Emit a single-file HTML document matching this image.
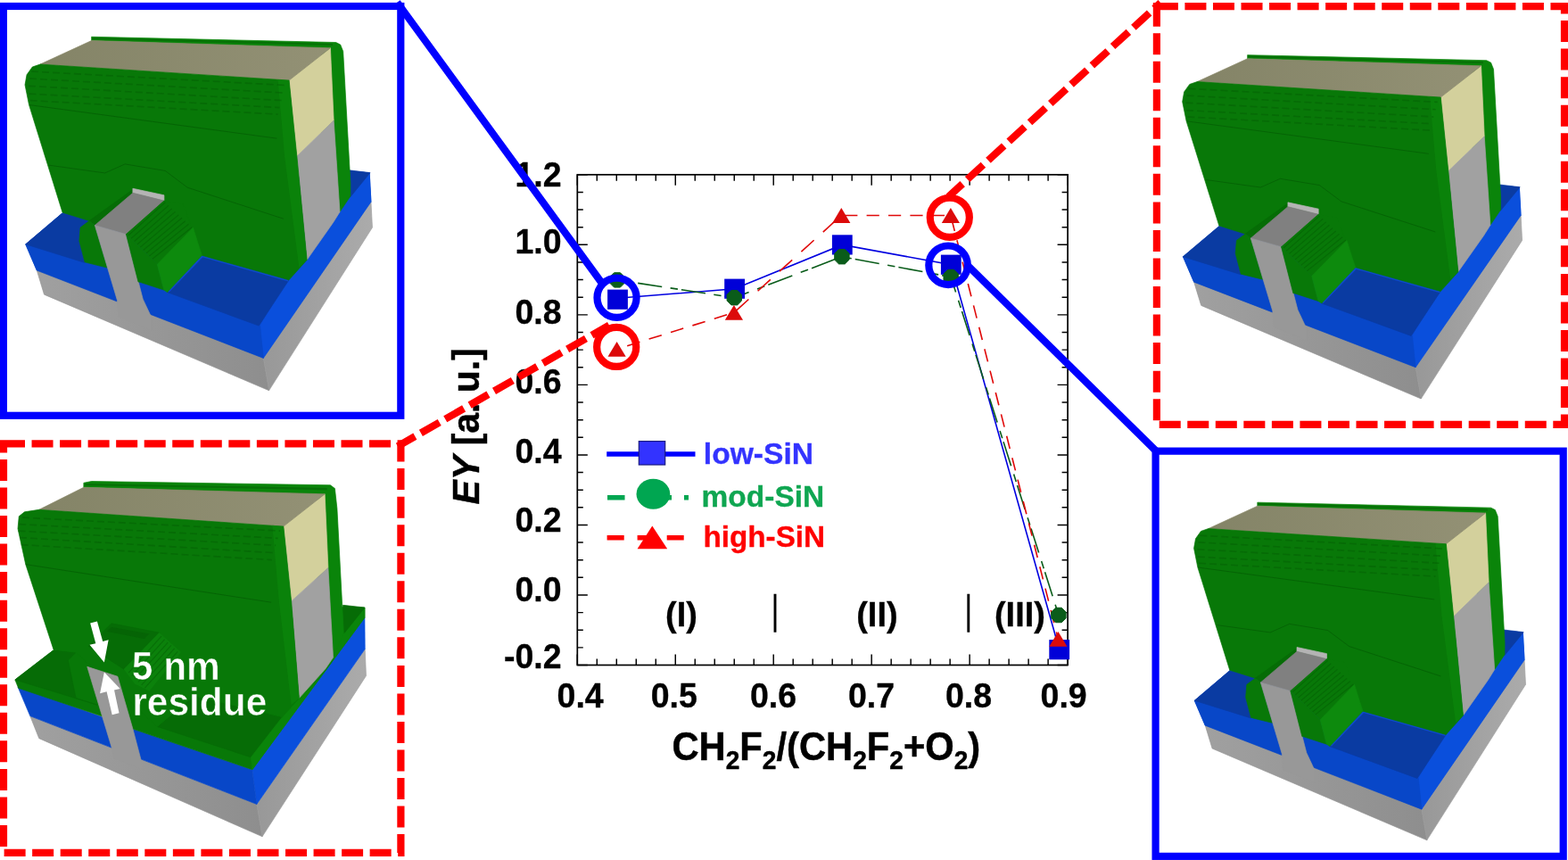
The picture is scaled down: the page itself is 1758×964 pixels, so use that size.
<!DOCTYPE html>
<html lang="en">
<head>
<meta charset="utf-8">
<title>EY vs CH2F2/(CH2F2+O2)</title>
<style>
html,body{margin:0;padding:0;background:#fff;}
body{width:1758px;height:964px;overflow:hidden;}
svg{display:block;}
svg text{font-family:"Liberation Sans", sans-serif;font-weight:bold;}
</style>
</head>
<body>
<svg width="1758" height="964" viewBox="0 0 1758 964">
<rect x="0" y="0" width="1758" height="964" fill="#ffffff"/>
<defs><linearGradient id="gk" x1="0" y1="0" x2="1" y2="0"><stop offset="0" stop-color="#848467"/><stop offset="1" stop-color="#939175"/></linearGradient><linearGradient id="gf" x1="0" y1="0" x2="1" y2="0"><stop offset="0" stop-color="#a0a0a0"/><stop offset="1" stop-color="#8e8e8e"/></linearGradient><linearGradient id="gr" x1="0" y1="0" x2="1" y2="0"><stop offset="0" stop-color="#989898"/><stop offset="1" stop-color="#ababab"/></linearGradient></defs>
<g id="models" stroke-width="0.7" stroke-linejoin="round">
<g>
<polygon points="70.06,238.79 28.76,273.83 41.29,303.09 295.32,401.46 415.96,226.26 414.21,193.94 372.91,190.18" fill="#0847c8" stroke="#0847c8"/>
<polygon points="295.32,401.46 301.58,437.75 417.46,255.04 415.96,226.26" fill="url(#gr)" stroke="#a2a2a2"/>
<polygon points="41.29,303.09 49.54,330.13 301.58,437.75 295.32,401.46" fill="url(#gf)" stroke="#969696"/>
<polygon points="372.91,190.18 414.21,193.94 415.96,226.26 295.32,401.46 291.57,365.16 322.86,312.61" fill="#0a4fdc" stroke="#0a4fdc"/>
<polygon points="28.76,273.83 41.29,303.09 295.32,401.46 291.57,365.16 187.57,327.58 156.91,316.31 120.11,300.11 95.09,293.86" fill="#0847c8" stroke="#0847c8"/>
<polygon points="70.06,238.79 28.76,273.83 95.09,294.48 88.83,270.08 90.08,255.06 100.09,247.55" fill="#0a3ba2" stroke="#0a3ba2"/>
<polygon points="187.57,327.58 226.36,286.28 323.97,313.81 290.18,365.12" fill="#0a3ba2" stroke="#0a3ba2"/>
<polyline points="188.82,326.95 226.99,287.28 323.34,314.56" fill="none" stroke="#0d4bd0" stroke-width="2.0" opacity="0.9"/>
<polygon points="391.5,190.8 415,193.6 392.6,221 388,222" fill="#0a3ba2" stroke="#0a3ba2"/>
<polygon points="102.61,41.26 376.67,47.52 381.67,50.02 384.68,57.53 392.9,205 392.8,220 381,237.5 360.4,237.74 360.4,53.78 102.61,45.52" fill="#0a840a" stroke="#0a840a"/>
<polyline points="103.11,43.01 372.91,50.02" fill="none" stroke="#066c06" stroke-width="2.2" opacity="0.8"/>
<polygon points="324.11,90.07 370.41,53.78 374.16,135.12 332.87,175.16" fill="#d3d09c" stroke="#d3d09c"/>
<polygon points="332.87,175.16 374.16,135.12 381,237.5 373.5,249.5 344.13,291.33" fill="#a1a1a1" stroke="#a1a1a1"/>
<polygon points="45.04,72.05 102.61,45.52 370.41,53.78 324.11,90.07" fill="url(#gk)" stroke="#8a8868"/>
<polygon points="45.04,72.05 36.28,75.05 30.02,83.81 28.02,95.07 32.53,117.6 70.06,238.17 100.09,247.55 226.36,286.28 323.97,313.81 344.13,291.33 332.87,175.16 324.11,90.07" fill="#087808" stroke="#087808"/>
<polygon points="311.59,89.32 324.11,90.07 332.87,175.16 344.13,291.33 335.37,300.09 319.1,175.16" fill="#0d8a0d" stroke="none" opacity="0.55"/>
<polyline points="35.03,80.06 320.35,95.57" fill="none" stroke="#045c04" stroke-width="1.6" opacity="0.45" stroke-dasharray="8 4"/>
<polyline points="33.03,88.07 318.35,104.08" fill="none" stroke="#045c04" stroke-width="1.6" opacity="0.45" stroke-dasharray="8 4"/>
<polyline points="32.03,96.33 315.85,112.59" fill="none" stroke="#045c04" stroke-width="1.6" opacity="0.45" stroke-dasharray="8 4"/>
<polyline points="32.53,105.09 313.34,120.6" fill="none" stroke="#045c04" stroke-width="1.6" opacity="0.45" stroke-dasharray="8 4"/>
<polyline points="33.78,112.59 311.59,128.11" fill="none" stroke="#045c04" stroke-width="1.6" opacity="0.45" stroke-dasharray="8 4"/>
<polyline points="33.03,117.6 310.34,155.14" fill="none" stroke="#045c04" stroke-width="0.9" opacity="0.8"/>
<polyline points="55.05,185.18 117.62,193.94 140.15,183.92 185.2,191.43 210.23,210.2 317.85,245.24" fill="none" stroke="#045c04" stroke-width="0.9" opacity="0.8"/>
<polygon points="100.09,247.55 148.9,212.51 148.9,216.89 106.35,252.56" fill="#066c06" stroke="#066c06"/>
<polygon points="90.08,255.06 100.09,247.55 106.35,252.56 120.11,300.11 95.09,293.86 88.83,270.08" fill="#087808" stroke="#087808"/>
<polygon points="148.9,211.26 183.94,218.77 183.94,225.03 148.9,216.27" fill="#b4b4b4" stroke="#b4b4b4"/>
<polygon points="106.35,252.56 148.9,216.27 183.94,225.03 141.39,262.57" fill="#808080" stroke="#808080"/>
<polygon points="106.35,252.56 141.39,262.57 160.17,335.13 170.18,356.41 170.18,370.17 132.64,355.15 131.39,336.38" fill="#989898" stroke="#989898"/>
<polygon points="141.39,262.57 183.94,225.03 205.21,228.78 221.35,271.26 176.3,296.29" fill="#087808" stroke="#087808"/>
<polyline points="143.89,263.82 185.19,226.91" fill="none" stroke="#045c04" stroke-width="1.1" opacity="0.55"/>
<polyline points="147.23,267.16 188.94,230.38" fill="none" stroke="#045c04" stroke-width="1.1" opacity="0.55"/>
<polyline points="150.57,270.5 192.7,233.86" fill="none" stroke="#045c04" stroke-width="1.1" opacity="0.55"/>
<polyline points="153.9,273.83 196.45,237.33" fill="none" stroke="#045c04" stroke-width="1.1" opacity="0.55"/>
<polyline points="157.24,277.17 200.2,240.81" fill="none" stroke="#045c04" stroke-width="1.1" opacity="0.55"/>
<polyline points="160.58,280.51 203.96,244.29" fill="none" stroke="#045c04" stroke-width="1.1" opacity="0.55"/>
<polyline points="163.91,283.85 207.71,247.76" fill="none" stroke="#045c04" stroke-width="1.1" opacity="0.55"/>
<polyline points="167.25,287.18 211.47,251.24" fill="none" stroke="#045c04" stroke-width="1.1" opacity="0.55"/>
<polyline points="170.59,290.52 215.22,254.71" fill="none" stroke="#045c04" stroke-width="1.1" opacity="0.55"/>
<polygon points="141.39,262.57 176.3,296.29 183.81,325.07 156.91,316.31 155,316" fill="#087808" stroke="#087808"/>
<polygon points="176.3,296.29 216.4,255.1 222.7,275.1 226.36,286.28 187.57,327.58 183.81,325.07" fill="#0d8a0d" stroke="#0d8a0d"/>
</g>
<g>
<polygon points="1366.81,253.63 1326.42,287.69 1338.67,316.13 1587.12,411.73 1705.1,241.44 1703.39,210.02 1663,206.38" fill="#0847c8" stroke="#0847c8"/>
<polygon points="1587.12,411.73 1593.24,447.01 1706.57,269.42 1705.1,241.44" fill="url(#gr)" stroke="#a2a2a2"/>
<polygon points="1338.67,316.13 1346.74,342.4 1593.24,447.01 1587.12,411.73" fill="url(#gf)" stroke="#969696"/>
<polygon points="1663,206.38 1703.39,210.02 1705.1,241.44 1587.12,411.73 1583.45,376.46 1614.04,325.37" fill="#0a4fdc" stroke="#0a4fdc"/>
<polygon points="1326.42,287.69 1338.67,316.13 1587.12,411.73 1583.45,376.46 1481.73,339.92 1451.74,328.98 1415.76,313.23 1391.28,307.15" fill="#0847c8" stroke="#0847c8"/>
<polygon points="1366.81,253.63 1326.42,287.69 1391.28,307.76 1385.16,284.04 1386.39,269.44 1396.18,262.14" fill="#0a3ba2" stroke="#0a3ba2"/>
<polygon points="1481.73,339.92 1519.67,299.78 1615.13,326.54 1582.09,376.41" fill="#0a3ba2" stroke="#0a3ba2"/>
<polyline points="1482.95,339.32 1520.28,300.76 1614.52,327.27" fill="none" stroke="#0d4bd0" stroke-width="2.0" opacity="0.9"/>
<polygon points="1681.18,206.98 1704.16,209.7 1682.25,236.33 1677.75,237.3" fill="#0a3ba2" stroke="#0a3ba2"/>
<polygon points="1398.64,61.63 1666.67,67.71 1671.57,70.14 1674.5,77.44 1682.55,220.78 1682.45,235.36 1670.91,252.37 1650.76,252.6 1650.76,73.79 1398.64,65.76" fill="#0a840a" stroke="#0a840a"/>
<polyline points="1399.13,63.33 1663,70.14" fill="none" stroke="#066c06" stroke-width="2.2" opacity="0.8"/>
<polygon points="1615.27,109.07 1660.55,73.79 1664.22,152.85 1623.83,191.78" fill="#d3d09c" stroke="#d3d09c"/>
<polygon points="1623.83,191.78 1664.22,152.85 1670.91,252.37 1663.57,264.03 1634.85,304.69" fill="#a1a1a1" stroke="#a1a1a1"/>
<polygon points="1342.34,91.55 1398.64,65.76 1660.55,73.79 1615.27,109.07" fill="url(#gk)" stroke="#8a8868"/>
<polygon points="1342.34,91.55 1333.77,94.47 1327.65,102.98 1325.69,113.93 1330.1,135.83 1366.81,253.02 1396.18,262.14 1519.67,299.78 1615.13,326.54 1634.85,304.69 1623.83,191.78 1615.27,109.07" fill="#087808" stroke="#087808"/>
<polygon points="1603.03,108.34 1615.27,109.07 1623.83,191.78 1634.85,304.69 1626.28,313.21 1610.37,191.78" fill="#0d8a0d" stroke="none" opacity="0.55"/>
<polyline points="1332.55,99.33 1611.59,114.42" fill="none" stroke="#045c04" stroke-width="1.6" opacity="0.45" stroke-dasharray="8 4"/>
<polyline points="1330.59,107.12 1609.64,122.69" fill="none" stroke="#045c04" stroke-width="1.6" opacity="0.45" stroke-dasharray="8 4"/>
<polyline points="1329.61,115.15 1607.19,130.96" fill="none" stroke="#045c04" stroke-width="1.6" opacity="0.45" stroke-dasharray="8 4"/>
<polyline points="1330.1,123.66 1604.74,138.74" fill="none" stroke="#045c04" stroke-width="1.6" opacity="0.45" stroke-dasharray="8 4"/>
<polyline points="1331.32,130.96 1603.03,146.04" fill="none" stroke="#045c04" stroke-width="1.6" opacity="0.45" stroke-dasharray="8 4"/>
<polyline points="1330.59,135.83 1601.8,172.32" fill="none" stroke="#045c04" stroke-width="0.9" opacity="0.8"/>
<polyline points="1352.13,201.51 1413.32,210.02 1435.35,200.29 1479.41,207.59 1503.89,225.84 1609.15,259.9" fill="none" stroke="#045c04" stroke-width="0.9" opacity="0.8"/>
<polygon points="1396.18,262.14 1443.91,228.08 1443.91,232.34 1402.3,267.01" fill="#066c06" stroke="#066c06"/>
<polygon points="1386.39,269.44 1396.18,262.14 1402.3,267.01 1415.76,313.23 1391.28,307.15 1385.16,284.04" fill="#087808" stroke="#087808"/>
<polygon points="1443.91,226.87 1478.18,234.16 1478.18,240.25 1443.91,231.73" fill="#b4b4b4" stroke="#b4b4b4"/>
<polygon points="1402.3,267.01 1443.91,231.73 1478.18,240.25 1436.57,276.74" fill="#808080" stroke="#808080"/>
<polygon points="1402.3,267.01 1436.57,276.74 1454.94,347.27 1464.73,367.94 1464.73,381.32 1428.01,366.73 1426.79,348.48" fill="#989898" stroke="#989898"/>
<polygon points="1436.57,276.74 1478.18,240.25 1498.99,243.9 1514.77,285.19 1470.71,309.51" fill="#087808" stroke="#087808"/>
<polyline points="1439.02,277.95 1479.4,242.07" fill="none" stroke="#045c04" stroke-width="1.1" opacity="0.55"/>
<polyline points="1442.28,281.2 1483.08,245.45" fill="none" stroke="#045c04" stroke-width="1.1" opacity="0.55"/>
<polyline points="1445.54,284.44 1486.75,248.83" fill="none" stroke="#045c04" stroke-width="1.1" opacity="0.55"/>
<polyline points="1448.81,287.69 1490.42,252.21" fill="none" stroke="#045c04" stroke-width="1.1" opacity="0.55"/>
<polyline points="1452.07,290.93 1494.09,255.59" fill="none" stroke="#045c04" stroke-width="1.1" opacity="0.55"/>
<polyline points="1455.33,294.17 1497.76,258.97" fill="none" stroke="#045c04" stroke-width="1.1" opacity="0.55"/>
<polyline points="1458.6,297.42 1501.43,262.34" fill="none" stroke="#045c04" stroke-width="1.1" opacity="0.55"/>
<polyline points="1461.86,300.66 1505.11,265.72" fill="none" stroke="#045c04" stroke-width="1.1" opacity="0.55"/>
<polyline points="1465.12,303.9 1508.78,269.1" fill="none" stroke="#045c04" stroke-width="1.1" opacity="0.55"/>
<polygon points="1436.57,276.74 1470.71,309.51 1478.06,337.49 1451.74,328.98 1449.88,328.67" fill="#087808" stroke="#087808"/>
<polygon points="1470.71,309.51 1509.93,269.48 1516.09,288.92 1519.67,299.78 1481.73,339.92 1478.06,337.49" fill="#0d8a0d" stroke="#0d8a0d"/>
</g>
<g>
<polygon points="1378.73,751.79 1339.29,785.26 1351.25,813.2 1593.86,907.14 1709.07,739.82 1707.39,708.95 1667.96,705.37" fill="#0847c8" stroke="#0847c8"/>
<polygon points="1593.86,907.14 1599.84,941.79 1710.5,767.31 1709.07,739.82" fill="url(#gr)" stroke="#a2a2a2"/>
<polygon points="1351.25,813.2 1359.14,839.01 1599.84,941.79 1593.86,907.14" fill="url(#gf)" stroke="#969696"/>
<polygon points="1667.96,705.37 1707.39,708.95 1709.07,739.82 1593.86,907.14 1590.27,872.48 1620.15,822.28" fill="#0a4fdc" stroke="#0a4fdc"/>
<polygon points="1339.29,785.26 1351.25,813.2 1593.86,907.14 1590.27,872.48 1490.95,836.58 1461.67,825.82 1426.53,810.35 1402.63,804.38" fill="#0847c8" stroke="#0847c8"/>
<polygon points="1378.73,751.79 1339.29,785.26 1402.63,804.98 1396.66,781.67 1397.85,767.33 1407.41,760.16" fill="#0a3ba2" stroke="#0a3ba2"/>
<polygon points="1490.95,836.58 1528,797.14 1621.22,823.43 1588.95,872.43" fill="#0a3ba2" stroke="#0a3ba2"/>
<polyline points="1492.15,835.98 1528.6,798.1 1620.62,824.15" fill="none" stroke="#0d4bd0" stroke-width="2.0" opacity="0.9"/>
<polygon points="1685.71,705.96 1708.15,708.63 1686.76,734.8 1682.37,735.75" fill="#0a3ba2" stroke="#0a3ba2"/>
<polygon points="1409.81,563.15 1671.54,569.13 1676.32,571.52 1679.19,578.69 1687.04,719.52 1686.95,733.84 1675.68,750.56 1656.01,750.78 1656.01,575.1 1409.81,567.21" fill="#0a840a" stroke="#0a840a"/>
<polyline points="1410.29,564.82 1667.96,571.52" fill="none" stroke="#066c06" stroke-width="2.2" opacity="0.8"/>
<polygon points="1621.35,609.76 1665.57,575.1 1669.15,652.78 1629.71,691.03" fill="#d3d09c" stroke="#d3d09c"/>
<polygon points="1629.71,691.03 1669.15,652.78 1675.68,750.56 1668.52,762.02 1640.47,801.97" fill="#a1a1a1" stroke="#a1a1a1"/>
<polygon points="1354.84,592.55 1409.81,567.21 1665.57,575.1 1621.35,609.76" fill="url(#gk)" stroke="#8a8868"/>
<polygon points="1354.84,592.55 1346.47,595.42 1340.5,603.78 1338.58,614.54 1342.89,636.05 1378.73,751.2 1407.41,760.16 1528,797.14 1621.22,823.43 1640.47,801.97 1629.71,691.03 1621.35,609.76" fill="#087808" stroke="#087808"/>
<polygon points="1609.4,609.04 1621.35,609.76 1629.71,691.03 1640.47,801.97 1632.1,810.33 1616.57,691.03" fill="#0d8a0d" stroke="none" opacity="0.55"/>
<polyline points="1345.28,600.2 1617.76,615.02" fill="none" stroke="#045c04" stroke-width="1.6" opacity="0.45" stroke-dasharray="8 4"/>
<polyline points="1343.36,607.85 1615.85,623.14" fill="none" stroke="#045c04" stroke-width="1.6" opacity="0.45" stroke-dasharray="8 4"/>
<polyline points="1342.41,615.74 1613.46,631.27" fill="none" stroke="#045c04" stroke-width="1.6" opacity="0.45" stroke-dasharray="8 4"/>
<polyline points="1342.89,624.1 1611.07,638.92" fill="none" stroke="#045c04" stroke-width="1.6" opacity="0.45" stroke-dasharray="8 4"/>
<polyline points="1344.08,631.27 1609.4,646.09" fill="none" stroke="#045c04" stroke-width="1.6" opacity="0.45" stroke-dasharray="8 4"/>
<polyline points="1343.36,636.05 1608.2,671.91" fill="none" stroke="#045c04" stroke-width="0.9" opacity="0.8"/>
<polyline points="1364.4,700.59 1424.15,708.95 1445.67,699.39 1488.69,706.56 1512.59,724.49 1615.37,757.95" fill="none" stroke="#045c04" stroke-width="0.9" opacity="0.8"/>
<polygon points="1407.41,760.16 1454.02,726.7 1454.02,730.88 1413.39,764.94" fill="#066c06" stroke="#066c06"/>
<polygon points="1397.85,767.33 1407.41,760.16 1413.39,764.94 1426.53,810.35 1402.63,804.38 1396.66,781.67" fill="#087808" stroke="#087808"/>
<polygon points="1454.02,725.5 1487.48,732.67 1487.48,738.65 1454.02,730.28" fill="#b4b4b4" stroke="#b4b4b4"/>
<polygon points="1413.39,764.94 1454.02,730.28 1487.48,738.65 1446.85,774.5" fill="#808080" stroke="#808080"/>
<polygon points="1413.39,764.94 1446.85,774.5 1464.79,843.79 1474.35,864.11 1474.35,877.26 1438.5,862.92 1437.3,844.99" fill="#989898" stroke="#989898"/>
<polygon points="1446.85,774.5 1487.48,738.65 1507.8,742.23 1523.22,782.8 1480.19,806.7" fill="#087808" stroke="#087808"/>
<polyline points="1449.24,775.7 1488.68,740.44" fill="none" stroke="#045c04" stroke-width="1.1" opacity="0.55"/>
<polyline points="1452.43,778.88 1492.26,743.76" fill="none" stroke="#045c04" stroke-width="1.1" opacity="0.55"/>
<polyline points="1455.61,782.07 1495.85,747.08" fill="none" stroke="#045c04" stroke-width="1.1" opacity="0.55"/>
<polyline points="1458.8,785.26 1499.44,750.4" fill="none" stroke="#045c04" stroke-width="1.1" opacity="0.55"/>
<polyline points="1461.99,788.44 1503.02,753.72" fill="none" stroke="#045c04" stroke-width="1.1" opacity="0.55"/>
<polyline points="1465.18,791.63 1506.61,757.04" fill="none" stroke="#045c04" stroke-width="1.1" opacity="0.55"/>
<polyline points="1468.36,794.82 1510.19,760.36" fill="none" stroke="#045c04" stroke-width="1.1" opacity="0.55"/>
<polyline points="1471.55,798 1513.78,763.68" fill="none" stroke="#045c04" stroke-width="1.1" opacity="0.55"/>
<polyline points="1474.74,801.19 1517.36,767" fill="none" stroke="#045c04" stroke-width="1.1" opacity="0.55"/>
<polygon points="1446.85,774.5 1480.19,806.7 1487.36,834.19 1461.67,825.82 1459.85,825.52" fill="#087808" stroke="#087808"/>
<polygon points="1480.19,806.7 1518.49,767.37 1524.5,786.47 1528,797.14 1490.95,836.58 1487.36,834.19" fill="#0d8a0d" stroke="#0d8a0d"/>
</g>
<g>
<polygon points="287.82,901.47 294.07,937.76 410.46,757.55 409.2,727.52" fill="url(#gr)" stroke="#a2a2a2"/>
<polygon points="33.78,802.61 43.79,827.63 294.07,937.76 287.82,901.47" fill="url(#gf)" stroke="#969696"/>
<polygon points="282.81,862.67 287.82,901.47 409.2,727.52 408.9,692.2" fill="#0a4fdc" stroke="#0a4fdc"/>
<polygon points="20.01,770.07 33.78,802.61 287.82,901.47 282.81,862.67 148.91,817.12 115.12,803.86" fill="#0847c8" stroke="#0847c8"/>
<polygon points="60.06,728.79 16.88,761.96 20.64,771.34 113.87,802.63 148.91,817.12 282.81,862.67 408.9,692.2 408.9,681 360.4,680.18" fill="#087808" stroke="#087808"/>
<polygon points="60.06,728.79 16.88,761.96 108.86,790.11 85.09,782.61 76.33,740.06 85.09,731.3" fill="#066c06" stroke="#066c06"/>
<polygon points="176.3,814.45 217.6,780.03 316.46,803.81 281.42,848.86" fill="#066c06" stroke="#066c06"/>
<polygon points="386.5,709 408.9,681 408.9,692.2 282.81,862.67 281.42,848.86 316.46,803.81" fill="#0a840a" stroke="#0a840a"/>
<polygon points="384.5,678.3 408.9,681 386.5,709 382,710" fill="#066c06" stroke="#066c06"/>
<polygon points="93.85,541.27 102.61,539.52 370.41,543.78 375.42,547.53 377.92,570.06 385.3,709.6 373.5,737 355.39,727.74 355.39,553.79 93.85,546.28" fill="#0a840a" stroke="#0a840a"/>
<polyline points="95.1,543.03 366.66,548.03" fill="none" stroke="#066c06" stroke-width="2.2" opacity="0.8"/>
<polygon points="317.85,590.08 364.15,553.79 367.91,636.38 326.61,673.92" fill="#d3d09c" stroke="#d3d09c"/>
<polygon points="326.61,673.92 367.91,636.38 373.5,737 365,749.5 335.37,782.58" fill="#a1a1a1" stroke="#a1a1a1"/>
<polygon points="43.79,571.31 93.85,546.28 364.15,553.79 317.85,590.08" fill="url(#gk)" stroke="#8a8868"/>
<polygon points="43.79,571.31 27.52,573.81 21.26,578.82 20.01,592.58 28.77,632.63 60.06,728.17 85.09,731.3 176.3,814.45 217.6,780.03 316.46,803.81 335.37,782.58 326.61,673.92 317.85,590.08" fill="#087808" stroke="#087808"/>
<polygon points="305.34,588.83 317.85,590.08 326.61,673.92 335.37,782.58 326.61,790.09 312.84,673.92" fill="#0d8a0d" stroke="none" opacity="0.55"/>
<polyline points="25.02,580.07 314.1,595.09" fill="none" stroke="#045c04" stroke-width="1.6" opacity="0.45" stroke-dasharray="8 4"/>
<polyline points="21.26,587.58 311.59,603.34" fill="none" stroke="#045c04" stroke-width="1.6" opacity="0.45" stroke-dasharray="8 4"/>
<polyline points="20.51,595.09 309.09,611.35" fill="none" stroke="#045c04" stroke-width="1.6" opacity="0.45" stroke-dasharray="8 4"/>
<polyline points="22.01,602.59 306.59,619.61" fill="none" stroke="#045c04" stroke-width="1.6" opacity="0.45" stroke-dasharray="8 4"/>
<polyline points="23.77,610.6 304.84,627.62" fill="none" stroke="#045c04" stroke-width="1.6" opacity="0.45" stroke-dasharray="8 4"/>
<polyline points="28.77,632.63 304.08,675.18" fill="none" stroke="#045c04" stroke-width="0.9" opacity="0.8"/>
<polygon points="99.11,724.13 125.05,698.87 178.29,709.11 138.7,750.07" fill="#066c06" stroke="#066c06"/>
<polygon points="125.05,702.97 167.37,710.48 161.91,715.94 119.59,707.75" fill="#045c04" stroke="none" opacity="0.5"/>
<polygon points="138.7,750.07 178.29,709.11 202.87,730.96 167.37,774.64 150.99,766.45" fill="#0d8a0d" stroke="none" opacity="0.5"/>
<polyline points="144.16,754.16 181.02,713.21" fill="none" stroke="#045c04" stroke-width="1.1" opacity="0.5"/>
<polyline points="147.8,757.58 184.66,716.62" fill="none" stroke="#045c04" stroke-width="1.1" opacity="0.5"/>
<polyline points="151.44,760.99 188.3,720.03" fill="none" stroke="#045c04" stroke-width="1.1" opacity="0.5"/>
<polyline points="155.09,764.4 191.95,723.45" fill="none" stroke="#045c04" stroke-width="1.1" opacity="0.5"/>
<polyline points="158.73,767.82 195.59,726.86" fill="none" stroke="#045c04" stroke-width="1.1" opacity="0.5"/>
<polyline points="162.37,771.23 199.23,730.27" fill="none" stroke="#045c04" stroke-width="1.1" opacity="0.5"/>
<polygon points="97.75,747.34 131.88,758.26 148.91,817.12 157.67,850.16 160.17,862.67 127.63,850.16 125.13,837.65" fill="#989898" stroke="#989898"/>
<g fill="#ffffff" stroke="none">
<polygon points="101.16,698.46 108.94,696.55 115.22,718.94 121.64,717.3 116.86,742.56 100.48,722.76 107.3,721.13"/>
<polygon points="116.86,753.48 134.61,771.91 128.05,773.55 133.52,799.22 125.73,801.26 119.59,775.32 112.08,777.37"/>
<text x="147.8" y="762.4" font-size="44" textLength="99" lengthAdjust="spacingAndGlyphs" stroke="#0a7c0a" stroke-width="0.6">5 nm</text>
<text x="148.3" y="801.9" font-size="44" textLength="151" lengthAdjust="spacingAndGlyphs" stroke="#0a7c0a" stroke-width="0.6">residue</text>
</g>
</g>
</g>
<g id="chart">
<rect x="647.3" y="195.8" width="549.8" height="549.7" fill="none" stroke="#000" stroke-width="1.7"/>
<path d="M647.3 745.5v-12M647.3 195.8v12M669.29 745.5v-7M669.29 195.8v7M691.28 745.5v-7M691.28 195.8v7M713.28 745.5v-7M713.28 195.8v7M735.27 745.5v-7M735.27 195.8v7M757.26 745.5v-12M757.26 195.8v12M779.25 745.5v-7M779.25 195.8v7M801.24 745.5v-7M801.24 195.8v7M823.24 745.5v-7M823.24 195.8v7M845.23 745.5v-7M845.23 195.8v7M867.22 745.5v-12M867.22 195.8v12M889.21 745.5v-7M889.21 195.8v7M911.2 745.5v-7M911.2 195.8v7M933.2 745.5v-7M933.2 195.8v7M955.19 745.5v-7M955.19 195.8v7M977.18 745.5v-12M977.18 195.8v12M999.17 745.5v-7M999.17 195.8v7M1021.16 745.5v-7M1021.16 195.8v7M1043.16 745.5v-7M1043.16 195.8v7M1065.15 745.5v-7M1065.15 195.8v7M1087.14 745.5v-12M1087.14 195.8v12M1109.13 745.5v-7M1109.13 195.8v7M1131.12 745.5v-7M1131.12 195.8v7M1153.12 745.5v-7M1153.12 195.8v7M1175.11 745.5v-7M1175.11 195.8v7M1197.1 745.5v-12M1197.1 195.8v12M647.3 745.5h11.5M1197.1 745.5h-11.5M647.3 725.87h6.5M1197.1 725.87h-6.5M647.3 706.24h6.5M1197.1 706.24h-6.5M647.3 686.6h6.5M1197.1 686.6h-6.5M647.3 666.97h11.5M1197.1 666.97h-11.5M647.3 647.34h6.5M1197.1 647.34h-6.5M647.3 627.71h6.5M1197.1 627.71h-6.5M647.3 608.08h6.5M1197.1 608.08h-6.5M647.3 588.44h11.5M1197.1 588.44h-11.5M647.3 568.81h6.5M1197.1 568.81h-6.5M647.3 549.18h6.5M1197.1 549.18h-6.5M647.3 529.55h6.5M1197.1 529.55h-6.5M647.3 509.91h11.5M1197.1 509.91h-11.5M647.3 490.28h6.5M1197.1 490.28h-6.5M647.3 470.65h6.5M1197.1 470.65h-6.5M647.3 451.02h6.5M1197.1 451.02h-6.5M647.3 431.39h11.5M1197.1 431.39h-11.5M647.3 411.75h6.5M1197.1 411.75h-6.5M647.3 392.12h6.5M1197.1 392.12h-6.5M647.3 372.49h6.5M1197.1 372.49h-6.5M647.3 352.86h11.5M1197.1 352.86h-11.5M647.3 333.22h6.5M1197.1 333.22h-6.5M647.3 313.59h6.5M1197.1 313.59h-6.5M647.3 293.96h6.5M1197.1 293.96h-6.5M647.3 274.33h11.5M1197.1 274.33h-11.5M647.3 254.7h6.5M1197.1 254.7h-6.5M647.3 235.06h6.5M1197.1 235.06h-6.5M647.3 215.43h6.5M1197.1 215.43h-6.5M647.3 195.8h11.5M1197.1 195.8h-11.5" fill="none" stroke="#000" stroke-width="1.45"/>
<polyline points="692.5,334.3 823.6,323.7 944.3,274.4 1066.3,296.7 1187.7,728.2" fill="none" stroke="#0000e0" stroke-width="1.6"/>
<path d="M692 313.9L693.5 314.13M702.9 315.54L711.2 316.8M715.2 317.4L742.2 321.47M751.6 322.89L759.9 324.14M763.9 324.74L790.9 328.81M800.3 330.23L808.6 331.48M812.6 332.09L823.3 333.7M823.3 333.7L839.6 327.48M849 323.9L857.3 320.73M861.3 319.21L888.3 308.91M897.7 305.32L906 302.16M910 300.63L937 290.33M946.4 288.17L954.7 289.71M958.7 290.46L985.7 295.49M995.1 297.25L1003.4 298.79M1007.4 299.54L1034.4 304.57M1043.8 306.32L1052.1 307.87M1056.1 308.62L1066.2 310.5M1066.2 310.5L1071.58 327.4M1074.58 336.8L1077.22 345.1M1078.49 349.1L1087.09 376.1M1090.09 385.5L1092.73 393.8M1094 397.8L1102.6 424.8M1105.59 434.2L1108.24 442.5M1109.51 446.5L1118.11 473.5M1121.1 482.9L1123.75 491.2M1125.02 495.2L1133.62 522.2M1136.61 531.6L1139.26 539.9M1140.53 543.9L1149.13 570.9M1152.12 580.3L1154.77 588.6M1156.04 592.6L1164.64 619.6M1167.63 629L1170.28 637.3M1171.55 641.3L1180.15 668.3M1183.14 677.7L1185.79 686" fill="none" stroke="#0a5c1a" stroke-width="1.6"/>
<path d="M691.6 391.3L693 390.86M703.2 387.69L717.4 383.26M727.6 380.09L741.8 375.66M752 372.49L766.2 368.06M776.4 364.88L790.6 360.46M800.8 357.28L815 352.86M825.2 348.32L839.4 335.48M849.6 326.25L863.8 313.41M874 304.18L888.2 291.34M898.4 282.11L912.6 269.27M922.8 260.04L937 247.2M947.2 241.5L961.4 241.5M971.6 241.5L985.8 241.5M996 241.5L1010.2 241.5M1020.4 241.5L1034.6 241.5M1044.8 241.5L1059 241.5M1066.74 244.8L1070.34 259M1072.93 269.2L1076.53 283.4M1079.12 293.6L1082.72 307.8M1085.31 318L1088.91 332.2M1091.5 342.4L1095.11 356.6M1097.69 366.8L1101.3 381M1103.88 391.2L1107.49 405.4M1110.08 415.6L1113.68 429.8M1116.27 440L1119.87 454.2M1122.46 464.4L1126.06 478.6M1128.65 488.8L1132.25 503M1134.84 513.2L1138.44 527.4M1141.03 537.6L1144.63 551.8M1147.22 562L1150.83 576.2M1153.41 586.4L1157.02 600.6M1159.61 610.8L1163.21 625M1165.8 635.2L1169.4 649.4M1171.99 659.6L1175.59 673.8M1178.18 684L1181.78 698.2M1184.37 708.4L1186.4 716.4" fill="none" stroke="#e00808" stroke-width="1.6"/>
<rect x="681.1" y="324.6" width="22.8" height="22.2" fill="#0000d8"/>
<rect x="812.2" y="312.6" width="22.8" height="22.2" fill="#0000d8"/>
<rect x="932.9" y="263.3" width="22.8" height="22.2" fill="#0000d8"/>
<rect x="1054.9" y="285.6" width="22.8" height="22.2" fill="#0000d8"/>
<rect x="1176.3" y="717.1" width="22.8" height="22.2" fill="#0000d8"/>
<polygon points="700.22,317.31 695.41,322.12 688.59,322.12 683.78,317.31 683.78,310.49 688.59,305.68 695.41,305.68 700.22,310.49" fill="#0a5c1a" stroke="#0a5c1a" stroke-width="1" stroke-linejoin="round"/>
<polygon points="831.52,337.11 826.71,341.92 819.89,341.92 815.08,337.11 815.08,330.29 819.89,325.48 826.71,325.48 831.52,330.29" fill="#0a5c1a" stroke="#0a5c1a" stroke-width="1" stroke-linejoin="round"/>
<polygon points="952.12,291.11 947.31,295.92 940.49,295.92 935.68,291.11 935.68,284.29 940.49,279.48 947.31,279.48 952.12,284.29" fill="#0a5c1a" stroke="#0a5c1a" stroke-width="1" stroke-linejoin="round"/>
<polygon points="1074.42,313.91 1069.61,318.72 1062.79,318.72 1057.98,313.91 1057.98,307.09 1062.79,302.28 1069.61,302.28 1074.42,307.09" fill="#0a5c1a" stroke="#0a5c1a" stroke-width="1" stroke-linejoin="round"/>
<polygon points="1195.12,692.91 1190.31,697.72 1183.49,697.72 1178.68,692.91 1178.68,686.09 1183.49,681.28 1190.31,681.28 1195.12,686.09" fill="#0a5c1a" stroke="#0a5c1a" stroke-width="1" stroke-linejoin="round"/>
<polygon points="691.6,382.9 701.7,399.7 681.5,399.7" fill="#dc0a0a"/>
<polygon points="822.9,342 833,358.8 812.8,358.8" fill="#dc0a0a"/>
<polygon points="943.3,233.1 953.4,249.9 933.2,249.9" fill="#dc0a0a"/>
<polygon points="1065.9,233.1 1076,249.9 1055.8,249.9" fill="#dc0a0a"/>
<polygon points="1186.4,708 1196.5,724.8 1176.3,724.8" fill="#dc0a0a"/>
<g font-size="37.5" stroke="#000" stroke-width="0.35">
<text transform="translate(629.6 208.9) scale(1 1.055)" text-anchor="end">1.2</text>
<text transform="translate(629.6 283.5) scale(1 1.055)" text-anchor="end">1.0</text>
<text transform="translate(629.6 362.7) scale(1 1.055)" text-anchor="end">0.8</text>
<text transform="translate(629.6 441.2) scale(1 1.055)" text-anchor="end">0.6</text>
<text transform="translate(629.6 519.2) scale(1 1.055)" text-anchor="end">0.4</text>
<text transform="translate(629.6 596.4) scale(1 1.055)" text-anchor="end">0.2</text>
<text transform="translate(629.6 673.8) scale(1 1.055)" text-anchor="end">0.0</text>
<text transform="translate(629.6 749.3) scale(1 1.055)" text-anchor="end">-0.2</text>
<text transform="translate(650.6 792.8) scale(1 1.055)" text-anchor="middle">0.4</text>
<text transform="translate(755.7 792.8) scale(1 1.055)" text-anchor="middle">0.5</text>
<text transform="translate(867 792.8) scale(1 1.055)" text-anchor="middle">0.6</text>
<text transform="translate(977 792.8) scale(1 1.055)" text-anchor="middle">0.7</text>
<text transform="translate(1086 792.8) scale(1 1.055)" text-anchor="middle">0.8</text>
<text transform="translate(1192.6 792.8) scale(1 1.055)" text-anchor="middle">0.9</text>
</g>
<g stroke="#000" stroke-width="0.45">
<text transform="translate(753.4 851.8) scale(0.9935 1.043)" font-size="42">CH<tspan font-size="28.3" dy="9.6">2</tspan><tspan dy="-9.6">F</tspan><tspan font-size="28.3" dy="9.6">2</tspan><tspan dy="-9.6">/(CH</tspan><tspan font-size="28.3" dy="9.6">2</tspan><tspan dy="-9.6">F</tspan><tspan font-size="28.3" dy="9.6">2</tspan><tspan dy="-9.6">+O</tspan><tspan font-size="28.3" dy="9.6">2</tspan><tspan dy="-9.6">)</tspan></text>
<text transform="translate(536.8 565.4) rotate(-90) scale(0.976 1.02)" font-size="42"><tspan font-style="italic">EY</tspan> [a. u.]</text>
</g>
<g font-size="38" text-anchor="middle" stroke="#000" stroke-width="0.3">
<text transform="translate(763.9 701.7) scale(1 1.01)">(I)</text>
<text transform="translate(983.4 701.7) scale(1 1.01)">(II)</text>
<text transform="translate(1143.4 701.7) scale(1 1.01)">(III)</text>
</g>
<path d="M869 665.7V708.7M1085.8 665.7V708.7" stroke="#000" stroke-width="2.9" fill="none"/>
<path d="M680.2 509.1H779.5" stroke="#0000ff" stroke-width="5.5" fill="none"/>
<rect x="716.3" y="494.6" width="29.4" height="26.4" fill="#3333ff" stroke="#1c1c80" stroke-width="1.2"/>
<text transform="translate(788.8 520.4) scale(1.035 1)" font-size="32.5" fill="#3333ff" stroke="#3333ff" stroke-width="0.3">low-SiN</text>
<path d="M681 557.7H700.5M748 557.7H753M767 557.7H772" stroke="#00a651" stroke-width="5.5" fill="none"/>
<ellipse cx="732.4" cy="553.7" rx="18.9" ry="17" fill="#00a651"/>
<text transform="translate(786.6 567.6) scale(1.03 1)" font-size="32.5" fill="#0fa651" stroke="#0fa651" stroke-width="0.3">mod-SiN</text>
<path d="M680.6 602.8H699.7M714.6 602.8H733M747.7 602.8H766.7" stroke="#ff0000" stroke-width="5.5" fill="none"/>
<polygon points="731.3,589.5 748.2,615.3 714.6,615.3" fill="#ff0000"/>
<text transform="translate(788.4 613) scale(1.024 1)" font-size="32.5" fill="#ff0000" stroke="#ff0000" stroke-width="0.3">high-SiN</text>
</g>
<g fill="none" stroke-linejoin="miter" stroke-linecap="butt">
<rect x="3.9" y="7" width="445.4" height="458.8" stroke="#0000ff" stroke-width="8.2"/>
<rect x="1295.6" y="505.65" width="457.1" height="454.2" stroke="#0000ff" stroke-width="8.2"/>
<rect x="4" y="497.4" width="445.4" height="458.5" stroke="#ff0000" stroke-width="8.2" stroke-dasharray="24 7.54"/>
<rect x="1296.9" y="7.05" width="457.1" height="468.85" stroke="#ff0000" stroke-width="8.2" stroke-dasharray="24 7.54"/>
<line x1="445.3" y1="2.7" x2="675.3" y2="318" stroke="#0000ff" stroke-width="8.2"/>
<line x1="1295.6" y1="505.0" x2="1085" y2="297.7" stroke="#0000ff" stroke-width="8.2"/>
<line x1="445.9" y1="500.3" x2="683" y2="364.6" stroke="#ff0000" stroke-width="8.2" stroke-dasharray="24 7.54" stroke-dashoffset="1.6"/>
<line x1="1301.2" y1="3.1" x2="1063.4" y2="220.5" stroke="#ff0000" stroke-width="8.2" stroke-dasharray="24 7.54" stroke-dashoffset="14.5"/>
<circle cx="691.55" cy="333.75" r="22.05" stroke="#0000ff" stroke-width="8.2"/>
<circle cx="691.2" cy="388.9" r="22.05" stroke="#ff0000" stroke-width="8.2"/>
<circle cx="1063.1" cy="297.3" r="21.8" stroke="#0000ff" stroke-width="8.2"/>
<circle cx="1064.8" cy="243.8" r="22.05" stroke="#ff0000" stroke-width="8.2"/>
</g>
</svg>
</body>
</html>
